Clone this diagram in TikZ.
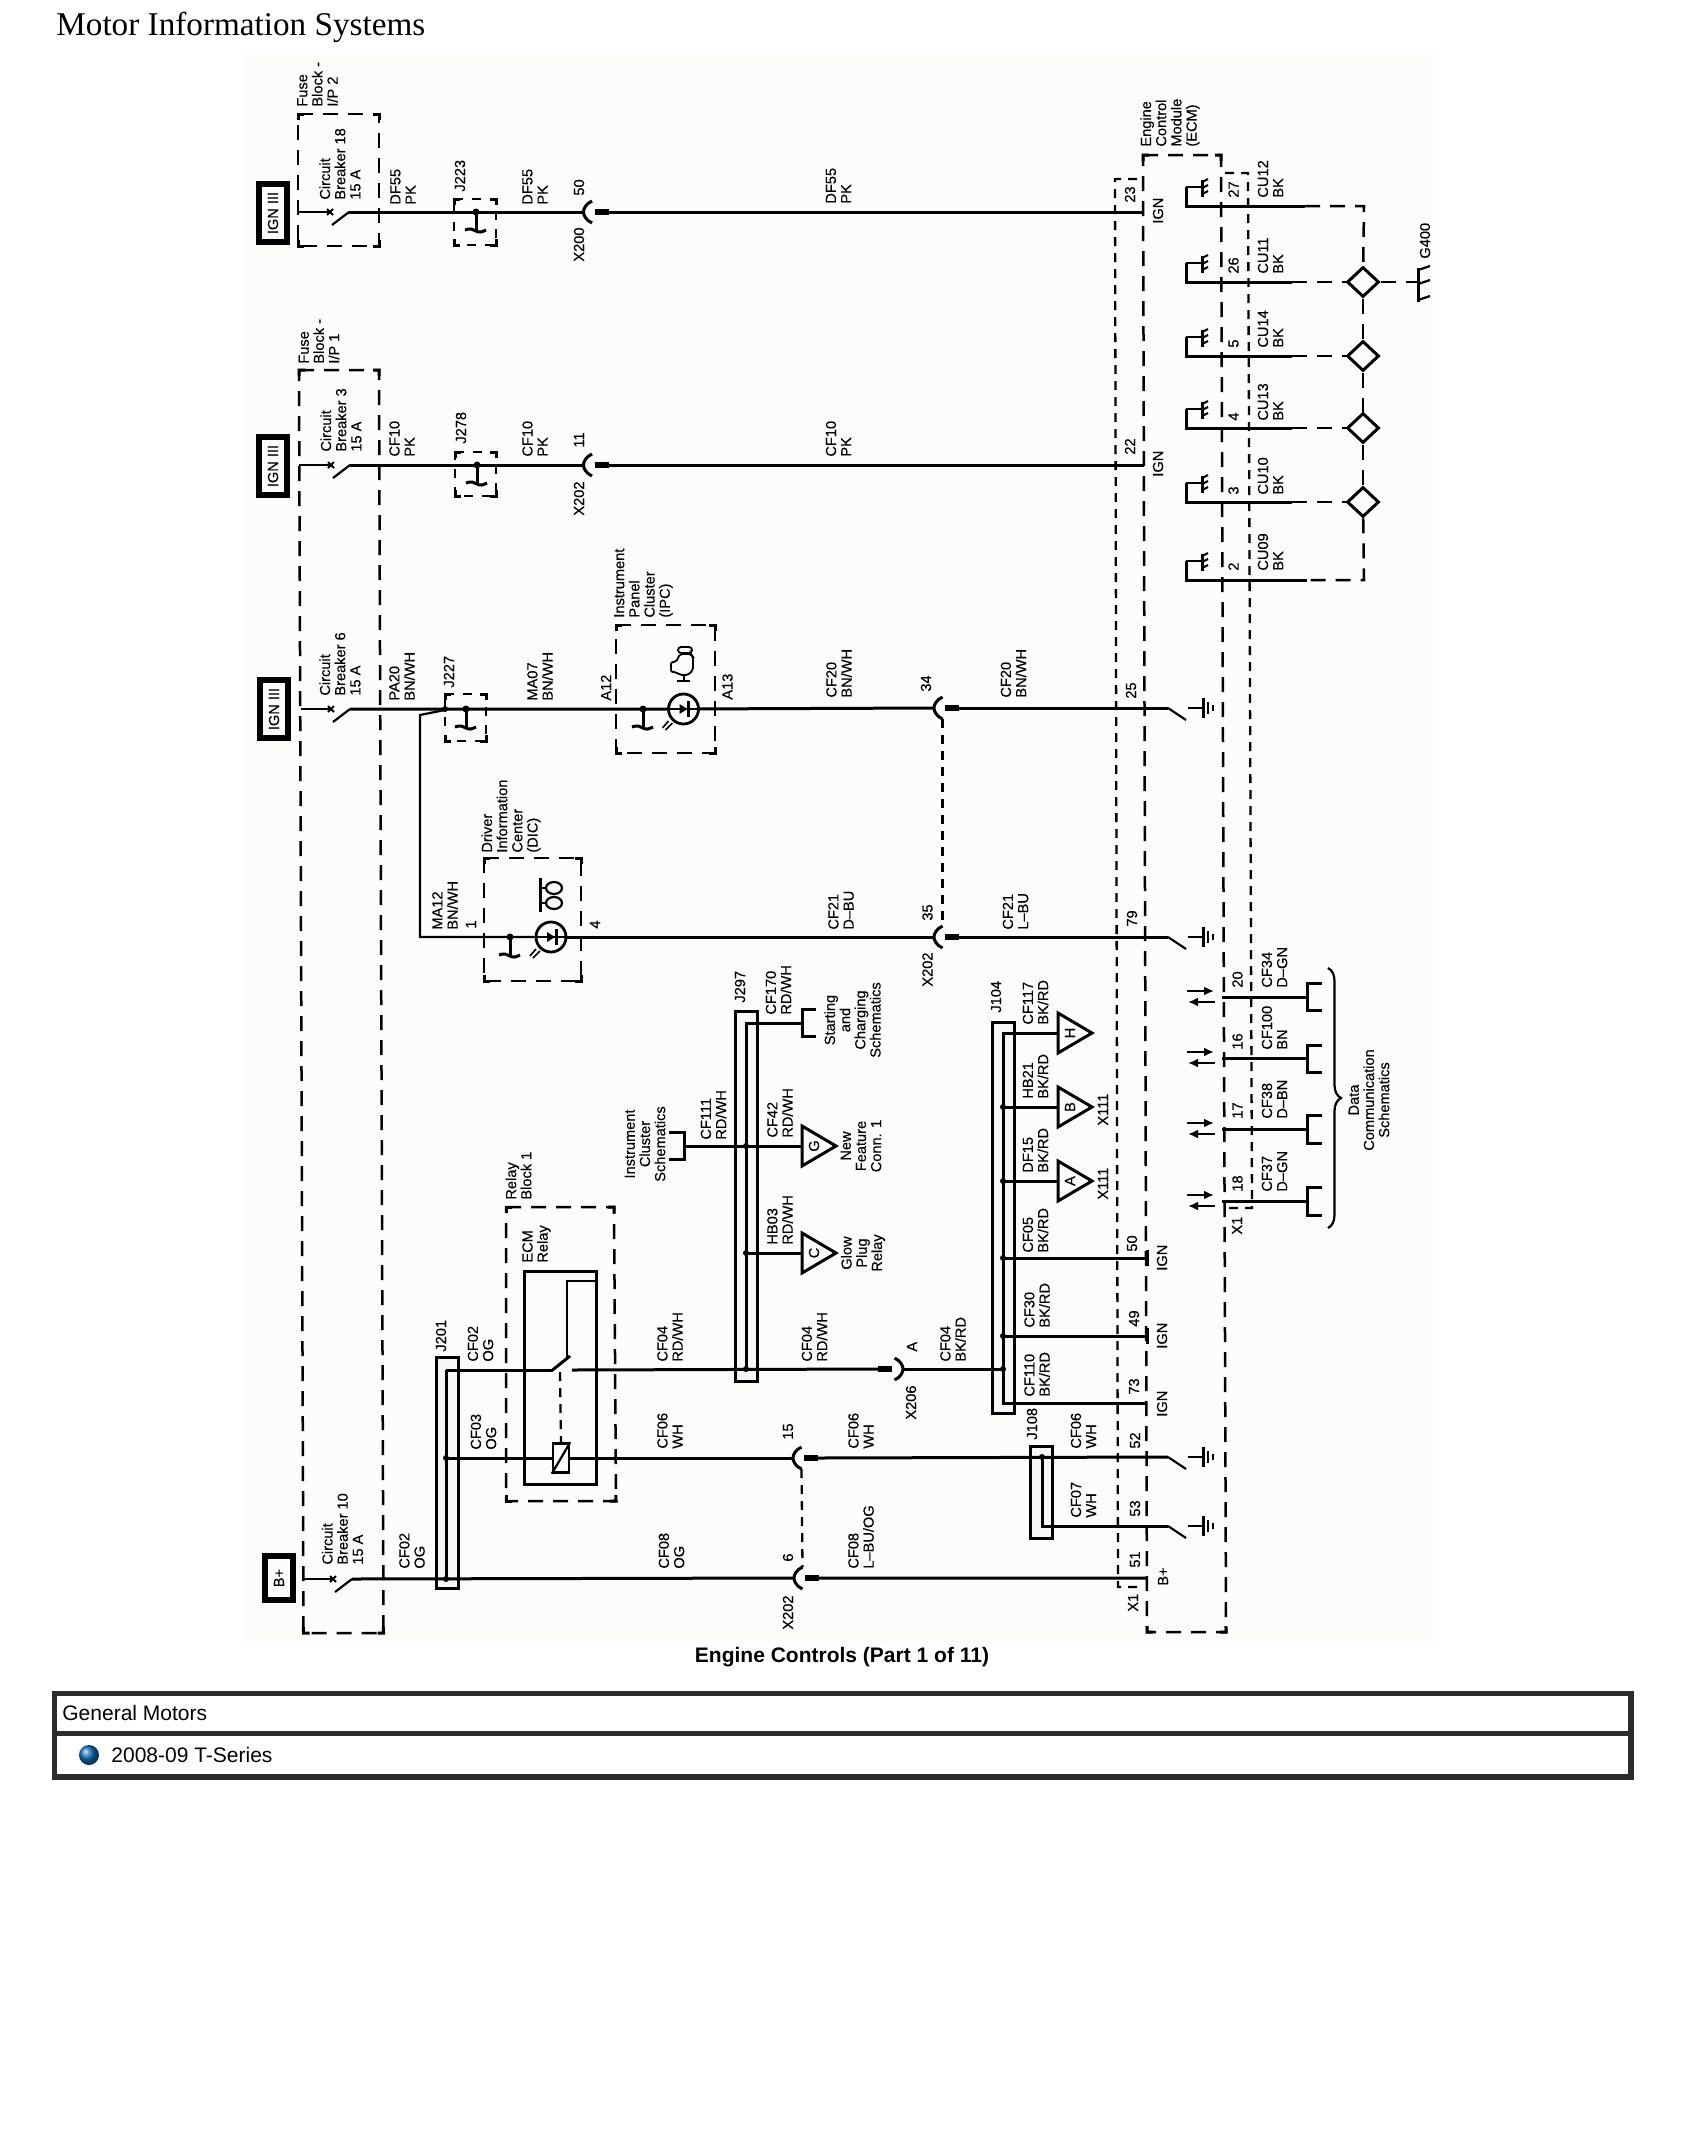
\documentclass[tikz,border=0pt]{standalone}
\usepackage{fontspec}
\setmainfont{Liberation Sans}
\newfontfamily\titlefont{Liberation Serif}
\newfontfamily\wirefam[FakeBold=0.25]{Liberation Sans}
\usetikzlibrary{arrows.meta, calc, decorations.pathreplacing, shapes.geometric}

\definecolor{panelbg}{HTML}{FCFDFB}
\definecolor{framedark}{HTML}{2B2B2B}
\definecolor{ballblue}{HTML}{0F6CB8}
\newcommand{\wirefont}{\wirefam\fontsize{7.3}{7.6}\selectfont}

\tikzset{
	wire/.style={line width=1.5pt},
	thinwire/.style={line width=1.1pt},
	longdash/.style={line width=1.25pt, dash pattern=on 7.5pt off 5pt},
	smalldash/.style={line width=1.25pt, dash pattern=on 4.5pt off 4.5pt},
	shortdash/.style={line width=1.15pt, dash pattern=on 4.5pt off 3.5pt},
	wlab/.style={font=\wirefont, rotate=90, anchor=west, align=left, inner sep=0pt},
	clab/.style={font=\wirefont, rotate=90, anchor=center, align=center, inner sep=0pt},
	srcbox/.style={draw, line width=3pt, rotate=90, font=\wirefont, inner sep=0pt, minimum height=14pt},
	splice/.style={diamond, draw, line width=1.5pt, fill=panelbg, inner sep=0pt, minimum width=16pt, minimum height=15pt},
	lampc/.style={circle, draw, line width=1.4pt, inner sep=0pt, minimum size=15pt},
	busbox/.style={draw=black, fill=black!3, line width=1.5pt},
	busline/.style={line width=1.5pt}
}

\newcommand{\wlab}[4]{\node[wlab] (#1) at (#2,#3) {#4};}
\newcommand{\clab}[4]{\node[clab] (#1) at (#2,#3) {#4};}

\newcommand{\dashframe}[6][longdash]{
	\coordinate (#2a) at (#3);
	\coordinate (#2b) at (#4);
	\coordinate (#2c) at (#5);
	\coordinate (#2d) at (#6);
	\draw[#1] (#2a) -- (#2b) -- (#2c) -- (#2d) -- cycle;
	\foreach \p/\q/\r in {a/b/d, b/c/a, c/d/b, d/a/c}
		\draw[line width=1.5pt] ($(#2\p)!3pt!(#2\q)$) -- (#2\p) -- ($(#2\p)!3pt!(#2\r)$);
}

\newcommand{\breaker}[4]{
	\coordinate (#1) at (#3+19,#4);
	\draw[thinwire] (#2,#4) -- (#3,#4);
	\draw[line width=1pt] (#3-3,#4-3) -- (#3+3,#4+3) (#3-3,#4+3) -- (#3+3,#4-3);
	\draw[thinwire] (#3+2,#4+13) -- (#1);
}

\newcommand{\xconn}[4]{
	\coordinate (#1a) at (#2,#3);
	\coordinate (#1b) at (#2+#4*25,#3);
	\coordinate (#1up) at (#2+#4*8.5,#3-11);
	\coordinate (#1dn) at (#2+#4*8.5,#3+11);
	\draw[wire] (#1up) .. controls (#2+#4*2,#3-8) and (#2,#3-3) .. (#1a) .. controls (#2,#3+3) and (#2+#4*2,#3+8) .. (#1dn);
	\draw[line width=2.6pt] (#2+#4*11,#3) -- (#1b);
}

\newcommand{\jshield}[3]{
	\coordinate (#1) at (#2,#3);
	\fill (#1) circle (3.5);
	\draw[wire] (#1) -- (#2,#3+19);
	\draw[wire] (#2-11,#3+18) .. controls (#2-6,#3+16) and (#2-3,#3+17) .. (#2,#3+19) .. controls (#2+3,#3+21) and (#2+6,#3+20) .. (#2+10,#3+18);
}

\newcommand{\lampsym}[3]{
	\node[lampc] (#1) at (#2,#3) {};
	\draw[thinwire] (#1.west) -- (#1.east);
	\fill (#2-4,#3-5) -- (#2+4,#3) -- (#2-4,#3+5) -- cycle;
	\draw[wire] (#2+5,#3-8) -- (#2+5,#3+8);
	\draw[line width=.8pt] (#2-21,#3+19) -- (#2-15,#3+12) (#2-18,#3+21) -- (#2-11,#3+14);
}

\newcommand{\swgnd}[2]{
	\coordinate (#1) at (1168,#2);
	\draw[thinwire] (#1) -- (1186,#2+12);
	\draw[thinwire] (1188,#2) -- (1203,#2);
	\draw[wire] (1203,#2-10) -- (1203,#2+10);
	\draw[thinwire] (1208,#2-6) -- (1208,#2+6);
	\draw[thinwire] (1213,#2-3) -- (1213,#2+3);
}

\newcommand{\ecmpin}[3]{
	\coordinate (#1) at (#3,#2);
	\draw[wire] (1186,#2-19) -- (1186,#2) -- (#1);
	\draw[thinwire] (1186,#2-19) -- (1202,#2-19);
	\draw[wire] (1202,#2-26) -- (1202,#2-9);
	\foreach \t in {12,18,24} \draw[line width=1pt] (1202,#2-\t) -- (1208,#2-\t-3);
}

\newcommand{\datapin}[4]{
	\coordinate (#1) at (1307,#2);
	\draw[wire] (1222,#2) -- (#1);
	\draw[wire] (1322,#3) -- (1307,#3) -- (1307,#4) -- (1322,#4);
	\draw[thinwire, -{Latex[length=5pt,width=4.5pt]}] (1187,#2-6) -- (1214,#2-6);
	\draw[thinwire, -{Latex[length=5pt,width=4.5pt]}] (1215,#2+5) -- (1188,#2+5);
}

\newcommand{\conntri}[4]{
	\coordinate (#1) at (#2,#3);
	\draw[wire] (#2,#3-20) -- (#2+34,#3) -- (#2,#3+20) -- cycle;
	\node[clab] (#1let) at (#2+12,#3) {#4};
}

\newcommand{\relbracket}[4]{
	\coordinate (#1) at (#2,#3);
	\draw[wire] (#4,#3-14) -- (#2,#3-14) -- (#2,#3+13) -- (#4,#3+13);
}

\begin{document}
\begin{tikzpicture}[x=.5pt, y=-.5pt]
	\useasboundingbox (0,0) rectangle (1699,2136);
	\fill[panelbg] (243,54) rectangle (1438,1642);
	\node[anchor=base west, inner sep=0pt, font=\titlefont\fontsize{16.6}{18}\selectfont] (pageTitle) at (56,35) {Motor Information Systems};

	\dashframe{fuseA}{298,114}{379,114}{379,246}{298,246}
	\dashframe{fuseB}{299,370}{379,370}{383.5,1633}{303.5,1633}
	\dashframe{ecm}{1143,155}{1221,155}{1226,1632}{1147,1632}
	\dashframe[smalldash]{jbA}{454,199}{496,199}{496,245}{454,245}
	\dashframe[smalldash]{jbB}{455,452}{496,452}{496,496}{455,496}
	\dashframe[smalldash]{jbC}{445,694}{486,694}{486,741}{445,741}
	\dashframe{ipc}{616,625}{715,625}{715,753}{616,753}
	\dashframe{dic}{484,858}{581,858}{581,981}{484,981}
	\dashframe{relayBlk}{506,1207}{614,1207}{616,1501}{506,1501}
	\draw[shortdash] (1137,179) -- (1115,179) -- (1118,1587) -- (1143,1587);
	\draw[shortdash] (1225,173) -- (1248,173) -- (1252,1208) -- (1224,1208);

	\node[srcbox, minimum width=29pt] (ignA) at (273,213) {IGN III};
	\node[srcbox, minimum width=29pt] (ignB) at (273,466) {IGN III};
	\node[srcbox, minimum width=29pt] (ignC) at (274,709) {IGN III};
	\node[srcbox, minimum width=22pt] (battD) at (279,1578) {B+};

	\breaker{cbA}{298}{330}{212}
	\breaker{cbB}{299}{331}{465}
	\breaker{cbC}{301}{331}{709}
	\breaker{cbD}{303}{333}{1579}

	\jshield{jA}{476}{212}
	\jshield{jB}{477}{465}
	\jshield{jC}{466}{709}
	\jshield{ipcS}{643}{709}
	\jshield{dicS}{510}{937}
	\xconn{xA}{583.5}{212}{1}
	\xconn{xB}{583.5}{465}{1}
	\xconn{xC}{934}{708}{1}
	\xconn{xD}{934}{937}{1}
	\xconn{xE}{793}{1458}{1}
	\xconn{xF}{794}{1578}{1}
	\xconn{xG}{903}{1369}{-1}
	\lampsym{lpC}{683.5}{709}
	\lampsym{lpD}{551}{937}

	\coordinate (pinA) at (1143,212);
	\coordinate (pinB) at (1144,465);
	\coordinate (pinF) at (1147,1578);
	\draw[wire] (cbA) -- (xAa) (xAb) -- (pinA);
	\draw[wire] (cbB) -- (xBa) (xBb) -- (pinB);
	\draw[wire] (cbC) -- (lpC) (lpC) -- (xCa);
	\draw[thinwire] (445,710) -- (420,715) -- (420,937) -- (lpD);
	\fill (445,709) circle (3);
	\draw[wire] (lpD) -- (xDa);
	\draw[shortdash] (xCdn) -- (xDup);
	\draw[shortdash] (xEdn) -- (xFup);

	\swgnd{gndC}{708}
	\swgnd{gndD}{937}
	\swgnd{gndE}{1457}
	\swgnd{gndF}{1526}
	\draw[wire] (xCb) -- (gndC);
	\draw[wire] (xDb) -- (gndD);

	\foreach \pname/\ya/\xb/\yb/\num/\cu in {cuA/206/1305/198/27/CU12, cuB/282/1292/274/26/CU11, cuC/356/1292/348/5/CU14, cuD/428/1292/421/4/CU13, cuE/502/1292/495/3/CU10, cuF/580/1307/571/2/CU09} {
		\ecmpin{\pname}{\ya}{\xb}
		\wlab{pn\pname}{1233.5}{\yb}{\num}
		\wlab{lb\pname}{1270.5}{\yb}{\cu\\BK}
	}
	\node[splice] (spA) at (1363,282) {};
	\node[splice] (spB) at (1363,356) {};
	\node[splice] (spC) at (1363,428) {};
	\node[splice] (spD) at (1363,502) {};
	\draw[longdash] (cuA) -- (1364,206) -- (spA);
	\draw[longdash] (spA) -- (spB);
	\draw[longdash] (spB) -- (spC);
	\draw[longdash] (spC) -- (spD);
	\draw[longdash] (spD) -- (1364,580) -- (cuF);
	\draw[longdash] (cuB) -- (spA);
	\draw[longdash] (cuC) -- (spB);
	\draw[longdash] (cuD) -- (spC);
	\draw[longdash] (cuE) -- (spD);
	\coordinate (gndG) at (1418,282);
	\draw[longdash] (spA) -- (gndG);
	\draw[wire] (gndG |- 0,268) -- (gndG |- 0,302);
	\foreach \t in {270,284,300} \draw[thinwire] (1418,\t) -- (1430,\t-4);

	\foreach \dname/\ya/\yta/\ytb/\yn/\cf/\num in {daA/997/983/1010/988/CF34\\D–GN/20, daB/1058/1045/1072/1050/CF100\\BN/16, daC/1129/1115/1143/1119/CF38\\D–BN/17, daD/1201/1187/1215/1192/CF37\\D–GN/18} {
		\datapin{\dname}{\ya}{\yta}{\ytb}
		\wlab{pn\dname}{1237.5}{\yn}{\num}
		\wlab{lb\dname}{1274.5}{\yn}{\cf}
	}
	\draw[line width=1.1pt, decorate, decoration={brace, amplitude=6.5pt}] (1328,968) -- (1328,1228);
	\clab{dataSch}{1369}{1100}{Data\\Communication\\Schematics}

	\filldraw[busbox] (735,1011) rectangle (757,1381);
	\filldraw[busbox] (992,1022) rectangle (1014,1413);
	\filldraw[busbox] (436,1357) rectangle (458,1588);
	\filldraw[busbox] (1030,1446) rectangle (1052,1538);

	\relbracket{brStart}{802}{1023}{816}
	\relbracket{brInst}{684}{1146}{669}
	\coordinate (busTopJ) at (746,1023);
	\coordinate (busBotJ) at (746,1369);
	\draw[busline] (brStart) -- (busTopJ) -- (busBotJ);
	\fill (busBotJ) circle (3);
	\conntri{triG}{802}{1146}{G}
	\conntri{triC}{802}{1253}{C}
	\draw[wire] (brInst) -- (triG);
	\fill (746,1146) circle (3);
	\draw[wire] (746,1253) -- (triC);
	\fill (746,1253) circle (3);

	\conntri{triH}{1058}{1033}{H}
	\conntri{triB}{1058}{1107}{B}
	\conntri{triA}{1058}{1181}{A}
	\coordinate (pinL) at (1147,1258);
	\coordinate (pinM) at (1147,1336);
	\coordinate (pinN) at (1147,1403);
	\draw[busline] (triH) -- (1003,1033) -- (1003,1403) -- (pinN);
	\foreach \ya/\tgt in {1107/triB, 1181/triA, 1258/pinL, 1336/pinM} {
		\draw[wire] (1003,\ya) -- (\tgt);
		\fill (1003,\ya) circle (3);
	}
	\fill (1003,1369) circle (3);
	\draw[wire] (pinL) ++(0,-8) -- ++(0,16);
	\draw[wire] (pinM) ++(0,-8) -- ++(0,16);

	\draw[wire] (cbD) -- (xFa) (xFb) -- (pinF);
	\coordinate (busTopR) at (446,1370);
	\coordinate (busMidR) at (446,1458);
	\coordinate (busBotR) at (446,1579);
	\coordinate (relayIn) at (552.5,1370);
	\coordinate (relayOut) at (572,1370);
	\draw[wire] (relayIn) -- (busTopR);
	\draw[busline] (busTopR) -- (busBotR);
	\fill (busMidR) circle (3);
	\fill (busBotR) circle (3);
	\draw[wire] (524,1271) rectangle (596,1484);
	\draw[thinwire] (596,1281) -- (567,1281) -- (567,1358);
	\draw[wire] (relayIn) -- (570,1356);
	\node[draw, line width=1.2pt, fill=panelbg, inner sep=0pt, minimum width=8pt, minimum height=14.5pt] (coil) at (561,1458) {};
	\draw[thinwire] (coil.south west) -- (coil.north east);
	\draw[shortdash] (560,1372) -- (coil.north);
	\draw[wire] (busMidR) -- (coil);
	\draw[wire] (coil) -- (xEa);
	\draw[wire] (xEb) -- (gndE);
	\draw[wire] (relayOut) -- (xGb);
	\draw[wire] (xGa) -- (1003,1369);
	\coordinate (busTopS) at (1042,1457);
	\fill (busTopS) circle (3);
	\draw[busline] (busTopS) -- (1042,1526) -- (gndF);

	\wlab{fuseLabA}{317.5}{107}{Fuse\\Block -\\I/P 2}
	\wlab{cbLabA}{340}{200}{Circuit\\Breaker 18\\15 A}
	\wlab{dfA}{403}{205}{DF55\\PK}
	\wlab{jLabA}{460}{192}{J223}
	\wlab{dfB}{535}{205}{DF55\\PK}
	\wlab{numA}{579}{196}{50}
	\wlab{xLabA}{579}{262}{X200}
	\wlab{dfC}{838.5}{204}{DF55\\PK}
	\wlab{pinLabA}{1130}{203}{23}
	\wlab{ignLabA}{1158}{224}{IGN}
	\wlab{ecmLab}{1170}{147}{Engine\\Control\\Module\\(ECM)}
	\wlab{gLab}{1425}{259}{G400}

	\wlab{fuseLabB}{319}{364}{Fuse\\Block -\\I/P 1}
	\wlab{cbLabB}{341}{452}{Circuit\\Breaker 3\\15 A}
	\wlab{cfA}{402}{457}{CF10\\PK}
	\wlab{jLabB}{461}{444}{J278}
	\wlab{cfB}{535}{457}{CF10\\PK}
	\wlab{numB}{579}{448}{11}
	\wlab{xLabB}{579}{516}{X202}
	\wlab{cfC}{838.5}{457}{CF10\\PK}
	\wlab{pinLabB}{1130}{455}{22}
	\wlab{ignLabB}{1158}{477}{IGN}

	\wlab{cbLabC}{340}{696}{Circuit\\Breaker 6\\15 A}
	\wlab{paA}{402}{701}{PA20\\BN/WH}
	\wlab{jLabC}{449}{688}{J227}
	\wlab{maA}{540}{701}{MA07\\BN/WH}
	\wlab{aTw}{606}{701}{A12}
	\wlab{ipcLab}{643.5}{618}{Instrument\\Panel\\Cluster\\(IPC)}
	\wlab{aTh}{727.5}{700}{A13}
	\wlab{cgA}{839}{698}{CF20\\BN/WH}
	\wlab{numC}{926}{692}{34}
	\wlab{cgB}{1013.5}{698}{CF20\\BN/WH}
	\wlab{pinLabC}{1131}{699}{25}

	\draw[line width=.9pt, rounded corners=1pt] (680,654) -- (691,654) -- (693,657) -- (693,670) -- (688,675) -- (680,675) -- (676,672) -- (671,672) -- (671,662) -- (676,662) -- cycle;
	\draw[line width=.9pt, rounded corners=1.5pt] (678,647) rectangle (692,653);
	\draw[line width=.9pt] (684,675) -- (684,681) (677,681) -- (690,681);

	\wlab{dicLab}{511}{853}{Driver\\Information\\Center\\(DIC)}
	\wlab{maB}{445}{930}{MA12\\BN/WH}
	\wlab{numOne}{471}{929}{1}
	\wlab{numFour}{595}{929}{4}
	\wlab{cdA}{841}{930}{CF21\\D–BU}
	\wlab{numD}{927.5}{921}{35}
	\wlab{xLabD}{927.5}{987}{X202}
	\wlab{cdB}{1015.5}{930}{CF21\\L–BU}
	\wlab{pinLabD}{1132}{927}{79}

	\draw[wire] (540,878) -- (540,912);
	\draw[thinwire] (540,888) -- (546,888) (540,903) -- (546,903);
	\draw[thinwire] (554,888) ellipse (8 and 6) (554,903) ellipse (8 and 6);

	\wlab{jLabS}{740}{1003}{J297}
	\wlab{cfS}{778.5}{1015}{CF170\\RD/WH}
	\clab{startSch}{852.5}{1020}{Starting\\and\\Charging\\Schematics}
	\clab{instSch}{645}{1144}{Instrument\\Cluster\\Schematics}
	\wlab{cfI}{713.5}{1140}{CF111\\RD/WH}
	\wlab{cfG}{780}{1138}{CF42\\RD/WH}
	\clab{newFeat}{861}{1146}{New\\Feature\\Conn. 1}
	\wlab{hbC}{780}{1245}{HB03\\RD/WH}
	\clab{glowPlug}{863}{1253}{Glow\\Plug\\Relay}

	\wlab{jLabH}{996}{1013}{J104}
	\wlab{cfH}{1035.5}{1025}{CF117\\BK/RD}
	\wlab{hbB}{1035.5}{1099}{HB21\\BK/RD}
	\wlab{dfF}{1035.5}{1173}{DF15\\BK/RD}
	\wlab{cfE}{1035.5}{1253}{CF05\\BK/RD}
	\wlab{cfT}{1037}{1328}{CF30\\BK/RD}
	\wlab{cfX}{1037}{1397}{CF110\\BK/RD}
	\wlab{xLabB2}{1103}{1126}{X111}
	\wlab{xLabA2}{1103}{1200}{X111}
	\wlab{pinLabL}{1132}{1252}{50}
	\wlab{pinLabM}{1134}{1327}{49}
	\wlab{pinLabN}{1134}{1395}{73}
	\wlab{ignLabL}{1162}{1271}{IGN}
	\wlab{ignLabM}{1162}{1349}{IGN}
	\wlab{ignLabN}{1162}{1417}{IGN}
	\wlab{xOne}{1237}{1235}{X1}

	\wlab{relayLab}{518.5}{1200}{Relay\\Block 1}
	\wlab{ecmRelay}{536.5}{1263}{ECM\\Relay}
	\wlab{jLabR}{441}{1352}{J201}
	\wlab{cfR}{480.5}{1362}{CF02\\OG}
	\wlab{cfP}{483.5}{1450}{CF03\\OG}
	\wlab{cfJ}{670}{1362}{CF04\\RD/WH}
	\wlab{cfK}{814.5}{1362}{CF04\\RD/WH}
	\wlab{aLab}{912}{1352}{A}
	\wlab{cfM}{953}{1362}{CF04\\BK/RD}
	\wlab{xLabG}{911}{1420}{X206}
	\wlab{cfN}{670}{1449}{CF06\\WH}
	\wlab{numE}{788}{1440}{15}
	\wlab{cfO}{861}{1449}{CF06\\WH}
	\wlab{jLabW}{1032}{1440}{J108}
	\wlab{cfQ}{1083.5}{1449}{CF06\\WH}
	\wlab{cfV}{1083.5}{1518}{CF07\\WH}
	\wlab{pinLabE}{1135}{1449}{52}
	\wlab{pinLabW}{1135}{1517}{53}
	\wlab{pinLabF}{1135}{1568}{51}
	\wlab{bLab}{1163}{1586}{B+}
	\wlab{xOneB}{1133}{1612}{X1}
	\wlab{cbLabD}{342.5}{1565}{Circuit\\Breaker 10\\15 A}
	\wlab{cfY}{412}{1569}{CF02\\OG}
	\wlab{cfZ}{671.5}{1569}{CF08\\OG}
	\wlab{numF}{788}{1562}{6}
	\wlab{xLabF}{788}{1630}{X202}
	\wlab{cfU}{861}{1569}{CF08\\L–BU/OG}

	\node[anchor=base, inner sep=0pt, font=\fontsize{10.5}{12}\selectfont\bfseries] (caption) at (842,1662) {Engine Controls (Part 1 of 11)};
	\draw[framedark, line width=2.6pt] (54.5,1693.5) rectangle (1631,1777);
	\draw[framedark, line width=2.6pt] (54.5,1733.5) -- (1631,1733.5);
	\node[anchor=base west, inner sep=0pt, font=\fontsize{10.5}{12}\selectfont] (makeLab) at (62,1720) {General Motors};
	\shade[ball color=ballblue] (89,1755) circle (10);
	\node[anchor=base west, inner sep=0pt, font=\fontsize{10.5}{12}\selectfont] (modelLab) at (111,1762) {2008-09 T-Series};
\end{tikzpicture}
\end{document}
